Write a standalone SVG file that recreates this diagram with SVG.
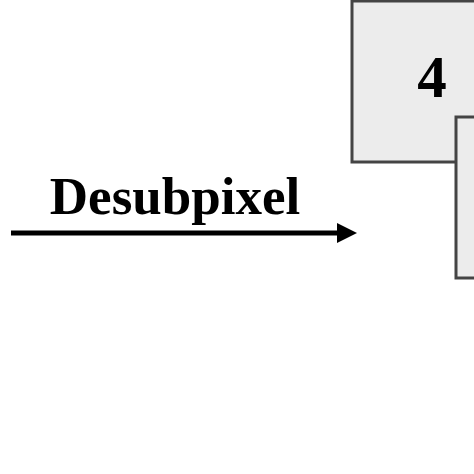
<svg xmlns="http://www.w3.org/2000/svg" width="474" height="474" viewBox="0 0 474 474">
<defs>
<style>
.box{fill:#ececec;stroke:#444;stroke-width:3}
.lbl{font-family:"Liberation Serif","Times New Roman",serif;font-weight:bold;fill:#000}
</style>
<marker id="ah" markerWidth="4" markerHeight="4" refX="0" refY="2" orient="auto" markerUnits="strokeWidth">
<path d="M0,0 L4,2 L0,4 Z" fill="#000"/>
</marker>
</defs>
<rect width="474" height="474" fill="#fff"/>
<g id="node-4">
<rect class="box" x="352" y="1" width="140" height="161"/>
<text class="lbl" x="432" y="97" font-size="59" text-anchor="middle">4</text>
</g>
<g id="node-5">
<rect class="box" x="456" y="117" width="40" height="161"/>
</g>
<g id="connectors">
<line x1="11" y1="233" x2="337" y2="233" stroke="#000" stroke-width="5" marker-end="url(#ah)"/>
<text class="lbl" x="175" y="214" font-size="53" text-anchor="middle">Desubpixel</text>
</g>
</svg>
